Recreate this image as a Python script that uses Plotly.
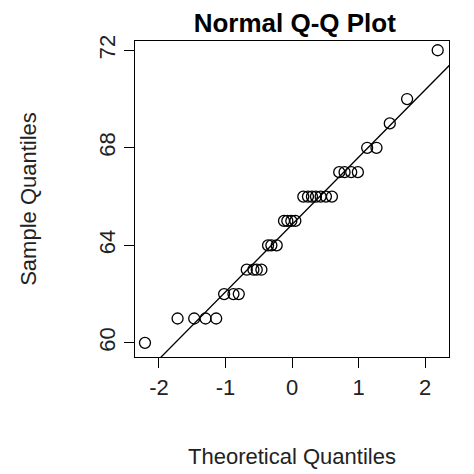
import plotly.graph_objects as go

# theoretical quantiles and sample values
theoretical = [-2.21, -1.72, -1.47, -1.30, -1.14, -1.02, -0.88, -0.80,
               -0.68, -0.58, -0.53, -0.46, -0.36, -0.31, -0.23,
               -0.12, -0.07, -0.01, 0.05,
               0.17, 0.24, 0.30, 0.36, 0.43, 0.51, 0.60,
               0.71, 0.79, 0.89, 0.99, 1.13, 1.27, 1.47, 1.73, 2.19]
sample = [60, 61, 61, 61, 61, 62, 62, 62,
          63, 63, 63, 63, 64, 64, 64,
          65, 65, 65, 65,
          66, 66, 66, 66, 66, 66, 66,
          67, 67, 67, 67, 68, 68, 69, 70, 72]
line_x = [-2.5, 2.5]
line_y = [57.95, 71.75]

fig = go.Figure()
fig.add_trace(go.Scatter(x=line_x, y=line_y, mode="lines",
                         line=dict(color="black", width=1.3), hoverinfo="skip"))
fig.add_trace(go.Scatter(x=theoretical, y=sample, mode="markers",
                         marker=dict(symbol="circle-open", size=11, color="black",
                                     line=dict(width=1.3))))

axis_common = dict(showgrid=False, zeroline=False, showline=True, mirror=True,
                   linecolor="black", linewidth=1.2, ticks="outside", ticklen=10,
                   tickwidth=1.2, tickcolor="black",
                   tickfont=dict(size=22, color="#222"))
fig.update_xaxes(range=[-2.36, 2.36], tickvals=[-2, -1, 0, 1, 2],
                 ticktext=["-2", "-1", "0", "1", "2"],
                 title=dict(text="Theoretical Quantiles", font=dict(size=22, color="#222"),
                            standoff=50), **axis_common)
fig.update_yaxes(range=[59.42, 72.38], tickvals=[60, 64, 68, 72], tickangle=-90,
                 title=dict(text="Sample Quantiles", font=dict(size=22, color="#222"),
                            standoff=52), **axis_common)
fig.update_layout(
    width=474, height=474, showlegend=False,
    plot_bgcolor="white", paper_bgcolor="white",
    font=dict(family="Liberation Sans, Arial, sans-serif"),
    margin=dict(l=127, r=33, t=33, b=125),
    title=dict(text="<b>Normal Q-Q Plot</b>", x=0.605, xanchor="center", y=0.968,
               yanchor="middle", font=dict(size=26, color="black")),
)
fig.write_html("out.html")
